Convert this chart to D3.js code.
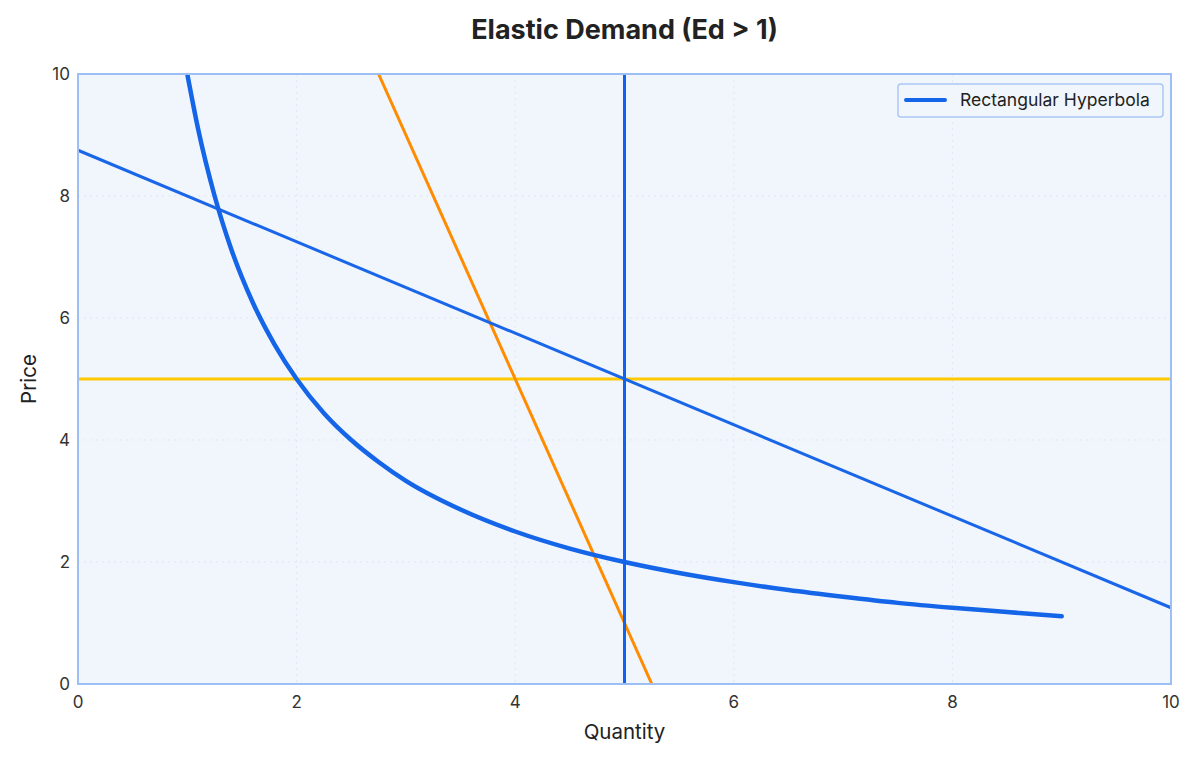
<!DOCTYPE html>
<html><head><meta charset="utf-8">
<script src="https://cdn.jsdelivr.net/npm/d3@7"></script>
<style>body{margin:0;background:#fff;font-family:Inter,"Noto Sans",sans-serif;}</style>
</head><body><svg id="c" width="1200" height="761"></svg>
<script>
const xTicks=[0,2,4,6,8,10];
const yTicks=[0,2,4,6,8,10];
const hyperQ=[1,1.1,1.25,1.4,1.6,1.8,2,2.25,2.5,2.75,3,3.5,4,4.5,5,5.5,6,6.5,7,7.5,8,8.5,9];
const hyperP=[10,9.09,8,7.14,6.25,5.56,5,4.44,4,3.64,3.33,2.86,2.5,2.22,2,1.82,1.67,1.54,1.43,1.33,1.25,1.18,1.11];
const elasticQ=[0,10], elasticP=[8.75,1.25];
const steepQ=[2.75,5.25], steepP=[10,0];
const vertQ=[5,5], vertP=[0,10];
const horizQ=[0,10], horizP=[5,5];
const legendLabel="Rectangular Hyperbola";

const svg=d3.select("#c");
const m={l:78,r:1171,t:74,b:684};
const x=d3.scaleLinear().domain([0,10]).range([m.l,m.r]);
const y=d3.scaleLinear().domain([0,10]).range([m.b,m.t]);

svg.append("rect").attr("x",m.l).attr("y",m.t).attr("width",m.r-m.l).attr("height",m.b-m.t).attr("fill","#f1f6fd");
svg.append("defs").append("clipPath").attr("id","clip").append("rect").attr("x",m.l).attr("y",m.t).attr("width",m.r-m.l).attr("height",m.b-m.t);

const g=svg.append("g");
g.selectAll(".gx").data(xTicks.slice(1,-1)).join("line").attr("x1",d=>x(d)).attr("x2",d=>x(d)).attr("y1",m.t).attr("y2",m.b).attr("stroke","#dfe7f3").attr("stroke-dasharray","2,4");
g.selectAll(".gy").data(yTicks.slice(1,-1)).join("line").attr("y1",d=>y(d)).attr("y2",d=>y(d)).attr("x1",m.l).attr("x2",m.r).attr("stroke","#dfe7f3").attr("stroke-dasharray","2,4");

const line=d3.line().x(d=>x(d[0])).y(d=>y(d[1]));
const zip=(a,b)=>a.map((v,i)=>[v,b[i]]);
const pg=svg.append("g").attr("clip-path","url(#clip)");
pg.append("path").attr("d",line(zip(horizQ,horizP))).attr("stroke","#ffc800").attr("stroke-width",3).attr("fill","none");
pg.append("path").attr("d",line(zip(steepQ,steepP))).attr("stroke","#ff8c00").attr("stroke-width",3).attr("fill","none");
pg.append("path").attr("d",line(zip(elasticQ,elasticP))).attr("stroke","#1a66e8").attr("stroke-width",3).attr("fill","none");
pg.append("path").attr("d",d3.line().curve(d3.curveMonotoneX).x(d=>x(d[0])).y(d=>y(d[1]))(zip(hyperQ,hyperP))).attr("stroke","#1565e8").attr("stroke-width",4.5).attr("stroke-linecap","round").attr("fill","none");
pg.append("path").attr("d",line(zip(vertQ,vertP))).attr("stroke","#0f63ee").attr("stroke-width",3).attr("fill","none");

svg.append("rect").attr("x",m.l).attr("y",m.t).attr("width",m.r-m.l).attr("height",m.b-m.t).attr("fill","none").attr("stroke","#9dbff5").attr("stroke-width",2);

svg.selectAll(".tx").data(xTicks).join("text").attr("x",d=>x(d)).attr("y",m.b+24).attr("text-anchor","middle").attr("font-size",17).attr("fill","#333").text(d=>d);
svg.selectAll(".ty").data(yTicks).join("text").attr("x",m.l-8).attr("y",d=>y(d)+6).attr("text-anchor","end").attr("font-size",17).attr("fill","#333").text(d=>d);

svg.append("text").attr("x",(m.l+m.r)/2).attr("y",739).attr("text-anchor","middle").attr("font-size",20.5).attr("fill","#222").text("Quantity");
svg.append("text").attr("transform",`translate(36,${(m.t+m.b)/2}) rotate(-90)`).attr("text-anchor","middle").attr("font-size",20.5).attr("fill","#222").text("Price");
svg.append("text").attr("x",(m.l+m.r)/2).attr("y",39).attr("text-anchor","middle").attr("font-size",27).attr("font-weight","bold").attr("fill","#222").text("Elastic Demand (Ed > 1)");

const lg=svg.append("g");
lg.append("rect").attr("x",898).attr("y",84).attr("width",265).attr("height",33).attr("rx",3).attr("fill","#f1f6fd").attr("stroke","#a9c7f5").attr("stroke-width",1.5);
lg.append("line").attr("x1",906).attr("x2",945).attr("y1",100).attr("y2",100).attr("stroke","#1565e8").attr("stroke-width",4).attr("stroke-linecap","round");
lg.append("text").attr("x",960).attr("y",106).attr("font-size",17.5).attr("fill","#222").text(legendLabel);
</script></body></html>
